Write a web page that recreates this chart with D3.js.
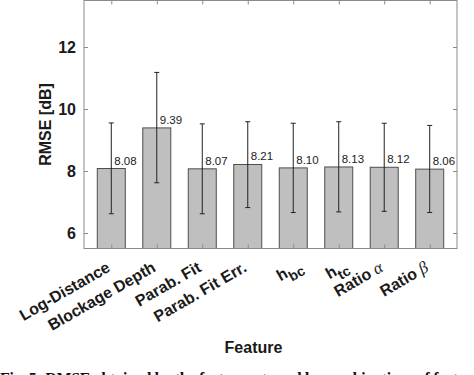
<!DOCTYPE html>
<html>
<head>
<meta charset="utf-8">
<script src="https://cdn.jsdelivr.net/npm/d3@7"></script>
<style>
  html, body { margin: 0; padding: 0; background: #fff; }
  svg { display: block; }
</style>
</head>
<body>
<svg id="chart" width="474" height="375"></svg>
<script>
// ---- data ----
const categories = ["Log-Distance", "Blockage Depth", "Parab. Fit", "Parab. Fit Err.", "h_bc", "h_tc", "Ratio α", "Ratio β"];
const rmse      = [8.08, 9.39, 8.07, 8.21, 8.10, 8.13, 8.12, 8.06];
const errLower  = [6.62, 7.62, 6.62, 6.82, 6.66, 6.68, 6.70, 6.66];
const errUpper  = [9.55, 11.18, 9.52, 9.59, 9.54, 9.59, 9.54, 9.47];
const valueLabels = ["8.08", "9.39", "8.07", "8.21", "8.10", "8.13", "8.12", "8.06"];
const yTicks = [6, 8, 10, 12];
const yLabel = "RMSE [dB]";
const xLabel = "Feature";
const caption = "Fig. 5: RMSE obtained by the feature sets and by combinations of feature";

// ---- layout ----
const svg = d3.select("#chart");
const L = 84, R = 457, T = 0.5, B = 248.5;

const x = d3.scaleLinear().domain([0.4, categories.length + 0.6]).range([L, R]);
const y = d3.scaleLinear().domain([5.5, 13.5]).range([B, T]);
const idx = categories.map((_, i) => i + 1);
const barW = 28;

const axisColor = "#8a8a8a";
const textColor = "#1a1a1a";

// bars
svg.append("g").selectAll("rect").data(idx).join("rect")
  .attr("x", d => x(d) - barW / 2)
  .attr("y", (d, i) => y(rmse[i]))
  .attr("width", barW)
  .attr("height", (d, i) => B - y(rmse[i]))
  .attr("fill", "#bfbfbf")
  .attr("stroke", "#4d4d4d")
  .attr("stroke-width", 1);

// error bars
const eg = svg.append("g").attr("stroke", "#222").attr("stroke-width", 1);
idx.forEach((d, i) => {
  const cx = x(d);
  eg.append("line").attr("x1", cx).attr("x2", cx).attr("y1", y(errLower[i])).attr("y2", y(errUpper[i]));
  eg.append("line").attr("x1", cx - 2.5).attr("x2", cx + 2.5).attr("y1", y(errLower[i])).attr("y2", y(errLower[i]));
  eg.append("line").attr("x1", cx - 2.5).attr("x2", cx + 2.5).attr("y1", y(errUpper[i])).attr("y2", y(errUpper[i]));
});

// value labels
svg.append("g").selectAll("text").data(idx).join("text")
  .attr("x", d => x(d) + 3)
  .attr("y", (d, i) => y(rmse[i]) - 4)
  .attr("font-family", "Liberation Sans, Arial, sans-serif")
  .attr("font-size", 11.5)
  .attr("fill", textColor)
  .text((d, i) => valueLabels[i]);

// box
svg.append("rect").attr("x", L).attr("y", T).attr("width", R - L).attr("height", B - T)
  .attr("fill", "none").attr("stroke", axisColor).attr("stroke-width", 1);

// axes via d3
const tickLen = 4;
const yAxisL = d3.axisLeft(y).tickValues(yTicks).tickSize(-tickLen).tickPadding(8).tickFormat(d3.format("d"));
const gy = svg.append("g").attr("transform", `translate(${L},0)`).call(yAxisL);
gy.select(".domain").remove();
gy.selectAll(".tick line").attr("stroke", axisColor);
gy.selectAll(".tick text").attr("font-family", "Liberation Sans, Arial, sans-serif")
  .attr("font-size", 16).attr("font-weight", "bold").attr("fill", textColor);

const yAxisR = d3.axisRight(y).tickValues(yTicks).tickSize(-tickLen).tickFormat("");
const gyr = svg.append("g").attr("transform", `translate(${R},0)`).call(yAxisR);
gyr.select(".domain").remove();
gyr.selectAll(".tick line").attr("stroke", axisColor);

const xAxisB = d3.axisBottom(x).tickValues(idx).tickSize(-tickLen).tickFormat("");
const gxb = svg.append("g").attr("transform", `translate(0,${B})`).call(xAxisB);
gxb.select(".domain").remove();
gxb.selectAll(".tick line").attr("stroke", axisColor);

const xAxisT = d3.axisTop(x).tickValues(idx).tickSize(-tickLen).tickFormat("");
const gxt = svg.append("g").attr("transform", `translate(0,${T})`).call(xAxisT);
gxt.select(".domain").remove();
gxt.selectAll(".tick line").attr("stroke", axisColor);

// x tick labels (rotated, with TeX-like subscripts / greek)
const xl = svg.append("g")
  .attr("font-family", "Liberation Sans, Arial, sans-serif")
  .attr("font-size", 16).attr("font-weight", "bold").attr("fill", textColor);
idx.forEach((d, i) => {
  const label = categories[i];
  const hasSub = label.includes("_");
  const t = xl.append("text")
    .attr("text-anchor", "end")
    .attr("transform", `translate(${x(d) + (hasSub ? 10 : 0)},${B + (hasSub ? 20 : 22)}) rotate(-30)`);
  if (hasSub) {
    const [base, sub] = label.split("_");
    t.append("tspan").text(base);
    t.append("tspan").attr("dy", 6).attr("font-size", 14).text(sub);
  } else if (/[αβ]$/.test(label)) {
    t.append("tspan").text(label.slice(0, -1));
    t.append("tspan").attr("font-family", "Liberation Serif, Times New Roman, serif")
      .attr("font-style", "italic").attr("font-weight", "normal").attr("font-size", 17).text(label.slice(-1));
  } else {
    t.text(label);
  }
});

// axis titles
svg.append("text")
  .attr("transform", `translate(51,${(T + B) / 2 }) rotate(-90)`)
  .attr("text-anchor", "middle")
  .attr("font-family", "Liberation Sans, Arial, sans-serif")
  .attr("font-size", 16).attr("font-weight", "bold").attr("fill", textColor)
  .text(yLabel);

svg.append("text")
  .attr("x", (L + R) / 2 - 17).attr("y", 353)
  .attr("text-anchor", "middle")
  .attr("font-family", "Liberation Sans, Arial, sans-serif")
  .attr("font-size", 16).attr("font-weight", "bold").attr("fill", textColor)
  .text(xLabel);

// caption (cut off at the bottom edge, as in the reference)
svg.append("text")
  .attr("x", 0).attr("y", 384)
  .attr("font-family", "Liberation Serif, Times New Roman, serif")
  .attr("font-size", 16).attr("font-weight", "bold").attr("fill", "#111")
  .attr("textLength", 480)
  .text(caption);
</script>
</body>
</html>
